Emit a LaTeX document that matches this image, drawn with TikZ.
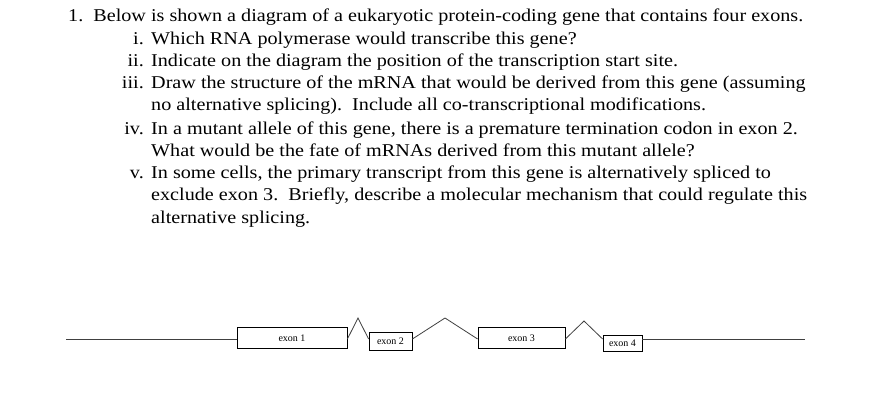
\documentclass[tikz,border=0pt]{standalone}
\usepackage{fontspec}
\setmainfont{Liberation Serif}
\newfontfamily\qfont[FakeStretch=1.12]{Liberation Serif}
\begin{document}
\begin{tikzpicture}[x=1pt,y=-1pt,
  txt/.style={anchor=base west,inner sep=0,font=\qfont\fontsize{18}{20}\selectfont},
  num/.style={anchor=base east,inner sep=0,font=\qfont\fontsize{18}{20}\selectfont},
  exon/.style={draw,line width=0.8pt,inner sep=0,font=\fontsize{10}{11}\selectfont},
  gl/.style={line width=0.8pt,draw=black!75}]
\useasboundingbox (0,0) rectangle (869,403);
\node[txt] (n1) at (68,22) {1.\ \ Below is shown a diagram of a eukaryotic protein-coding gene that contains four exons.};
\node[num] (r1) at (144,45) {i.};
\node[txt] (l1) at (151,45) {Which RNA polymerase would transcribe this gene?};
\node[num] (r2) at (144,67) {ii.};
\node[txt] (l2) at (151,67) {Indicate on the diagram the position of the transcription start site.};
\node[num] (r3) at (144,89) {iii.};
\node[txt] (l3) at (151,89) {Draw the structure of the mRNA that would be derived from this gene (assuming};
\node[txt] (l3b) at (151,111) {no alternative splicing).\ \ Include all co-transcriptional modifications.};
\node[num] (r4) at (144,135) {iv.};
\node[txt] (l4) at (151,135) {In a mutant allele of this gene, there is a premature termination codon in exon 2.};
\node[txt] (l4b) at (151,157) {What would be the fate of mRNAs derived from this mutant allele?};
\node[num] (r5) at (144,179) {v.};
\node[txt] (l5) at (151,179) {In some cells, the primary transcript from this gene is alternatively spliced to};
\node[txt] (l5b) at (151,201) {exclude exon 3.\ \ Briefly, describe a molecular mechanism that could regulate this};
\node[txt] (l5c) at (151,223) {alternative splicing.};
% gene
\node[exon,minimum width=110,minimum height=21] (e1) at (292,338) {exon 1};
\node[exon,minimum width=43,minimum height=18] (e2) at (390.5,341) {exon 2};
\node[exon,minimum width=87,minimum height=21] (e3) at (521.5,338) {exon 3};
\node[exon,minimum width=39,minimum height=16] (e4) at (622.5,343) {exon 4};
\coordinate (s) at (66,339);
\coordinate (t) at (805,339);
\coordinate (p1) at (358,318);
\coordinate (p2) at (445,318);
\coordinate (p3) at (584,321);
\draw[gl] (s) -- (e1.west|-s);
\draw[gl] (e1.east|-s) -- (p1) -- (e2.west|-s);
\draw[gl] (e2.east|-s) -- (p2) -- (e3.west|-s);
\draw[gl] (e3.east|-s) -- (p3) -- (e4.west|-s);
\draw[gl] (e4.east|-s) -- (t);
\end{tikzpicture}
\end{document}
